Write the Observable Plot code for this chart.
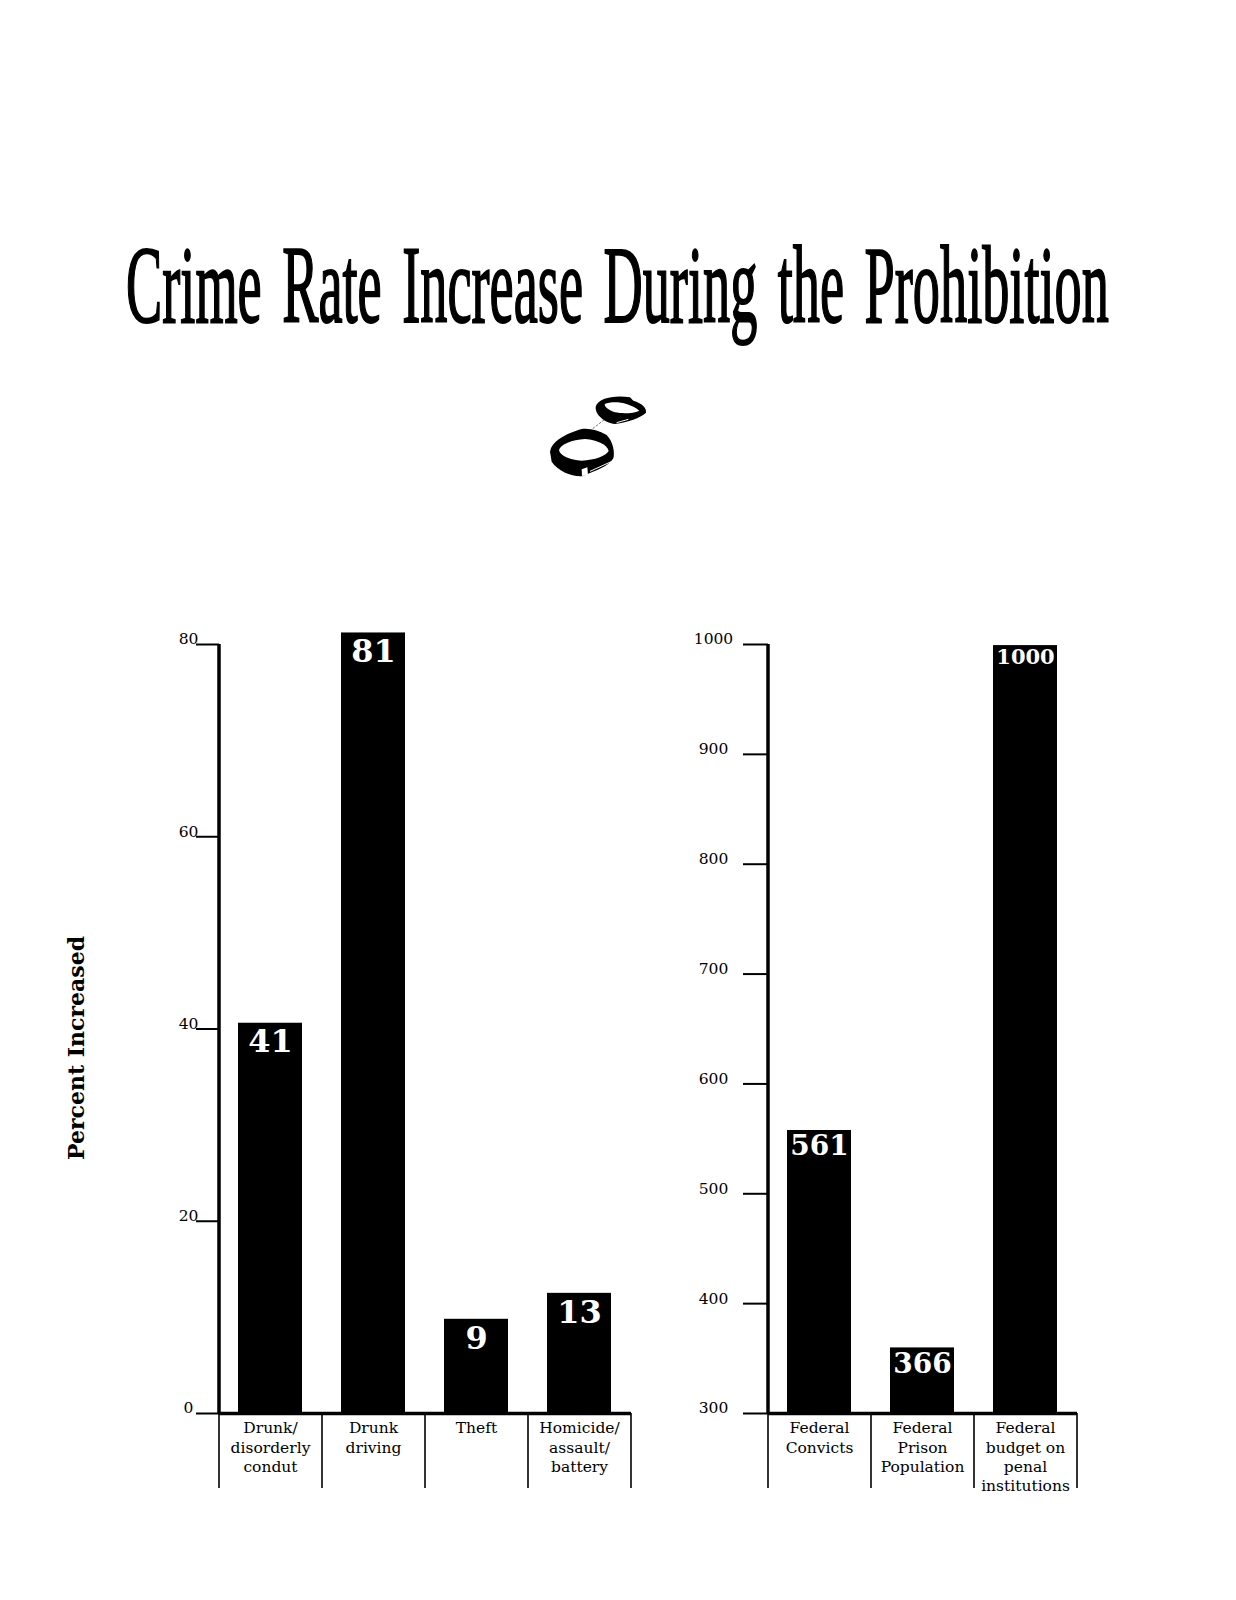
<!DOCTYPE html>
<html>
<head>
<meta charset="utf-8">
<script src="https://cdn.jsdelivr.net/npm/d3@7"></script>
<script src="https://cdn.jsdelivr.net/npm/@observablehq/plot@0.6"></script>
<style>
  body { margin: 0; background: #fff; }
  #page { position: relative; width: 1236px; height: 1600px; overflow: hidden; }
  #page > * { position: absolute; }
  #ylabel { left: 76px; top: 1048px; white-space: nowrap;
            font: bold 22px "DejaVu Serif"; color: #000;
            transform: translate(-50%, -50%) rotate(-90deg); }
</style>
</head>
<body>
<div id="page">
  <svg id="title" style="left:0;top:220px" width="1236" height="130">
    <text id="titleText" font-family="Liberation Serif" font-size="110" word-spacing="14"
          stroke="#000" stroke-width="2">Crime Rate Increase During the Prohibition</text>
  </svg>
  <svg id="cuffs" style="left:500px;top:370px" width="160" height="110" viewBox="0 0 480 330">
    <path fill-rule="evenodd" d="M150 245C155 215 190 195 235 180C255 172 290 178 320 195C340 215 345 250 340 265C325 290 290 300 250 318C220 322 175 305 155 275Z
      M177 240C182 224 215 209 255 207C295 210 322 225 326 243C318 258 285 270 245 272C210 270 180 258 177 240Z"/>
    <path fill-rule="evenodd" d="M287 110C295 85 340 75 390 82L400 92C425 100 440 112 438 128C420 145 385 155 345 162C315 158 285 135 287 110Z
      M314 102C340 92 385 96 418 122C400 131 365 131 345 127C326 120 314 112 314 102Z"/>
    <path d="M245 298L262 292L264 316L246 318Z" fill="#fff"/>
    <path d="M270 304L340 272M350 158L385 148" stroke="#fff" stroke-width="3" fill="none"/>
    <path d="M278 176L312 150" stroke="#777" stroke-width="3" stroke-dasharray="8 4" fill="none"/>
  </svg>
  <div id="ylabel">Percent Increased</div>
</div>
<script>
const crimeNames = ["Drunk/\ndisorderly\ncondut", "Drunk\ndriving", "Theft", "Homicide/\nassault/\nbattery"];
const crimeHeights = [40.6, 81.2, 9.8, 12.5];
const crimeLabels = ["41", "81", "9", "13"];
const crimeTicks = [0, 20, 40, 60, 80];

const federalNames = ["Federal\nConvicts", "Federal\nPrison\nPopulation", "Federal\nbudget on\npenal\ninstitutions"];
const federalHeights = [557.6, 359.7, 999];
const federalLabels = ["561", "366", "1000"];
const federalTicks = [300, 400, 500, 600, 700, 800, 900, 1000];

// squeeze the title into the width of the reference, no condensed didone is installed
const titleText = document.getElementById("titleText");
const titleScale = 983 / titleText.getComputedTextLength();
titleText.setAttribute("transform", `translate(126,102) scale(${titleScale},1)`);

const drawChart = ({names, heights, labels, ticks, left, width, marginLeft, marginRight, tickLen, labelGap, valueSize, valueDy}) => {
  const rows = names.map((name, i) => ({name, height: heights[i], label: labels[i]}));
  const base = ticks[0];
  const cellWidth = (width - marginLeft - marginRight) / names.length;
  const valueText = (filter, fontSize, dy) => Plot.text(rows, {
    filter, x: "name", y: "height", text: "label", dy, fontSize, fill: "#fff", fontWeight: "bold"
  });
  const chart = Plot.plot({
    width,
    height: 880,
    marginTop: 44,
    marginBottom: 67,
    marginLeft,
    marginRight,
    style: {fontFamily: "DejaVu Serif", background: "transparent", overflow: "visible"},
    x: {domain: names, paddingInner: 0.376, paddingOuter: 0.188, label: null},
    y: {domain: [base, ticks[ticks.length - 1]], label: null},
    marks: [
      Plot.barY(rows, {x: "name", y1: () => base, y2: "height", fill: "#000"}),
      Plot.axisY({ticks, tickSize: tickLen, text: null, stroke: "#000", strokeWidth: 2, label: null}),
      Plot.axisY({ticks, tickSize: 0, tickPadding: tickLen + labelGap, tickFormat: d => String(d), textAnchor: "middle", dy: -5,
                  fontSize: 15.5, fill: "#000", label: null}),
      Plot.ruleY([base], {stroke: "#000", strokeWidth: 3.5}),
      Plot.ruleX([0], {x: () => names[0], dx: -cellWidth / 2, stroke: "#000", strokeWidth: 3.5}),
      Plot.axisX(names, {text: null, tickSize: 75, dx: cellWidth / 2, stroke: "#000", strokeWidth: 1.6}),
      Plot.axisX([names[0]], {text: null, tickSize: 75, dx: -cellWidth / 2, stroke: "#000", strokeWidth: 1.6}),
      Plot.axisX({tickSize: 0, tickPadding: 6, lineHeight: 1.25, fontSize: 15.5, fill: "#000", label: null}),
      valueText(d => d.label.length <= 3, valueSize, valueDy),
      valueText(d => d.label.length > 3, 21, 12)
    ]
  });
  chart.style.left = left + "px";
  chart.style.top = "600px";
  document.getElementById("page").append(chart);
};

drawChart({names: crimeNames, heights: crimeHeights, labels: crimeLabels, ticks: crimeTicks,
           left: 0, width: 650, marginLeft: 219, marginRight: 19, tickLen: 23, labelGap: 8,
           valueSize: 32, valueDy: 19});
drawChart({names: federalNames, heights: federalHeights, labels: federalLabels, ticks: federalTicks,
           left: 650, width: 440, marginLeft: 118, marginRight: 13, tickLen: 25, labelGap: 30,
           valueSize: 28, valueDy: 16});
</script>
</body>
</html>
